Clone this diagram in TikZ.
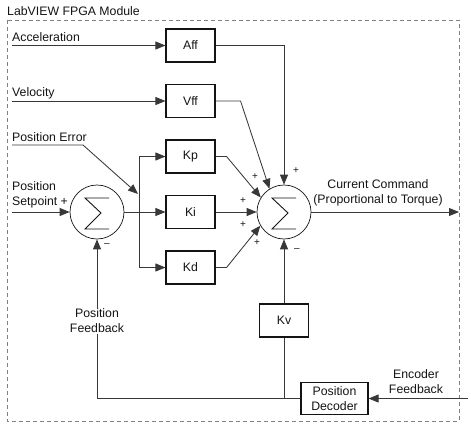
\documentclass[tikz,border=0pt]{standalone}
\usepackage{fontspec}
\setmainfont{Liberation Sans}
\usepackage{tikz}
\usetikzlibrary{arrows, arrows.meta}
\usetikzlibrary{positioning}
\usepackage{xcolor}
\definecolor{wire}{gray}{0.22}
\definecolor{ink}{gray}{0.08}

\begin{document}
\begin{tikzpicture}[x=1pt, y=-1pt, font=\fontsize{12.3}{15}\selectfont, text=ink,
  gain/.style={draw=ink, line width=1.1pt, minimum width=49pt, minimum height=33pt, inner sep=0pt},
  summer/.style={circle, draw=ink, line width=0.7pt, minimum size=54pt, inner sep=0pt,
    path picture={\draw[ink, line width=0.9pt, shift={(path picture bounding box.center)}]
      (12pt,14pt) -- (-12pt,14pt) -- (4pt,-1pt) -- (-12pt,-17pt) -- (12pt,-17pt);}},
  sig/.style={wire, line width=0.85pt, -{Triangle[length=10pt,width=8pt]}},
  plain/.style={wire, line width=0.85pt},
  sgn/.style={font=\fontsize{10}{10}\selectfont, inner sep=0pt}]

\useasboundingbox (0,0) rectangle (471,439);

%module frame
\draw[gray, line width=0.7pt, dash pattern=on 4pt off 3pt] (7,20) rectangle (459,421);
\node[anchor=base west, inner sep=0pt] (title) at (7,15) {LabVIEW FPGA Module};

%blocks
\node[gain] (aff) at (190.5,45.5) {Aff};
\node[gain] (vff) at (190.5,101) {Vff};
\node[gain] (kp) at (190.5,156.5) {Kp};
\node[gain] (ki) at (190.5,212) {Ki};
\node[gain] (kd) at (190.5,267.5) {Kd};
\node[gain] (kv) at (284,320.5) {Kv};
\node[gain, minimum width=67pt, minimum height=32pt, align=center] (dec) at (334.5,398.5) {Position\\Decoder};

%summing junctions
\node[summer] (s1) at (97,212) {};
\node[summer] (s2) at (284,212) {};

%free ends
\coordinate (accin) at (12,45.5);
\coordinate (velin) at (12,101);
\coordinate (errin) at (12,145);
\coordinate (errtip) at (138,194);
\coordinate (setin) at (12,212);
\coordinate (br) at (139,212);
\coordinate (out) at (459,212);
\coordinate (encin) at (468,398.5);

%lines
\draw[sig] (accin) -- (aff);
\draw[sig] (velin) -- (vff);
\draw[sig] (errin) -- ++(71,0) -- (errtip);
\draw[sig] (setin) -- (s1);
\draw[sig] (s1) -- (ki);
\draw[sig] (br) |- (kp);
\draw[sig] (br) |- (kd);
\draw[sig] (aff) -| (s2);
\draw[sig] (vff.east) -- ++(25,0) -- (s2.122);
\draw[sig] (kp.east) -- ++(11,0) -- (s2.148);
\draw[sig] (ki) -- (s2);
\draw[sig] (kd.east) -- ++(11,0) -- (s2.210);
\draw[sig] (kv) -- (s2);
\draw[plain] (kv) -- (kv |- dec);
\draw[sig] (dec) -| (s1);
\draw[sig] (encin) -- (dec);
\draw[sig] (s2) -- (out);

%labels
\node[anchor=base west, inner sep=0pt] (acclabel) at (12,41) {Acceleration};
\node[anchor=base west, inner sep=0pt] (vellabel) at (12,96) {Velocity};
\node[anchor=base west, inner sep=0pt] (errlabel) at (12,141) {Position Error};
\node[anchor=south west, align=left, inner sep=0pt] (setlabel) at (12,208) {Position\\Setpoint +};
\node[fill=white, align=center, inner sep=1pt] (fblabel) at (97,321) {Position\\Feedback};
\node[align=center] (enclabel) at (416,381.5) {Encoder\\Feedback};
\node[align=center] (outlabel) at (378,193) {Current Command\\(Proportional to Torque)};

%signs
\node[sgn] (p1) at (255,177) {+};
\node[sgn] (p2) at (243,201) {+};
\node[sgn] (p3) at (243,225) {+};
\node[sgn] (p4) at (257,243) {+};
\node[sgn] (p5) at (296,171) {+};
\node[sgn] (m1) at (107,245) {--};
\node[sgn] (m2) at (297,250) {--};

\end{tikzpicture}
\end{document}
